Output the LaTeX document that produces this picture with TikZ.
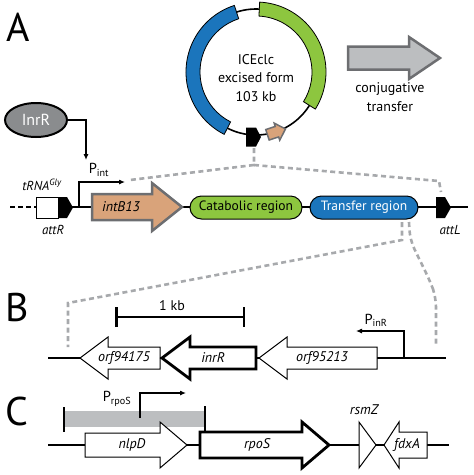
\documentclass[tikz,border=0pt]{standalone}
\usepackage{fontspec}
\setmainfont{PT Sans}
\usetikzlibrary{arrows.meta,shapes.geometric,shapes.misc,calc,positioning}

\definecolor{iceBlue}{HTML}{1B75BC}
\definecolor{iceGreen}{HTML}{8DC63F}
\definecolor{intTan}{HTML}{D9A37A}
\definecolor{edgeGray}{HTML}{6D6E71}
\definecolor{lightGray}{HTML}{BCBEC0}
\definecolor{dashGray}{HTML}{A7A9AC}
\definecolor{inrGray}{HTML}{8A8C8E}

\tikzset{
  panel/.style={inner sep=0pt,font=\fontsize{40}{40}\selectfont},
  lab/.style={inner sep=0pt,font=\fontsize{14}{16}\selectfont},
  genelab/.style={inner sep=0pt,font=\fontsize{14}{16}\selectfont\itshape},
  zoomline/.style={dashGray,line width=2.6pt,dash pattern=on 5pt off 3.5pt},
  promo/.style={line width=1.1pt,-{Latex[length=6pt,width=5pt]}},
  geneshape/.style={draw=black,fill=white,line join=miter},
  region/.style={rounded rectangle,draw=black,line width=1pt,minimum height=23pt,
    inner sep=0pt,font=\fontsize{13.5}{15}\selectfont},
}

\begin{document}
\begin{tikzpicture}[x=1pt,y=1pt]
  \useasboundingbox (0,0) rectangle (474,-475);

  \node[panel] (labA) at (18,-27) {A};
  \node[panel] (labB) at (17,-307) {B};
  \node[panel] (labC) at (17,-411) {C};

  % A: excised form
  \coordinate (ice) at (256,-72);
  \draw[line width=1.6pt] (ice) circle (63);
  \filldraw[fill=iceBlue,line width=0.8pt] ($(ice)+(108:70)$) arc (108:243:70)
    -- ($(ice)+(243:56)$) arc (243:108:56) -- cycle;
  \filldraw[fill=iceGreen,line width=0.8pt] ($(ice)+(87:70)$) arc (87:-32:70)
    -- ($(ice)+(-32:56)$) arc (-32:87:56) -- cycle;
  \fill[shift={(253,-137)}] (-7,-9.5) -- (3,-9.5) -- (8,0) -- (3,9.5) -- (-7,9.5) -- cycle;
  \filldraw[fill=intTan,draw=edgeGray,line width=1.5pt,line join=miter,
    shift={(276,-132)},rotate=18] (-9,-5.5) -- (1,-5.5) -- (1,-9) -- (10,0)
    -- (1,9) -- (1,5.5) -- (-9,5.5) -- cycle;
  \node[lab,align=center,font=\fontsize{14}{18.5}\selectfont] (icetxt) at (256,-78)
    {ICEclc\\excised form\\103 kb};

  \filldraw[fill=lightGray,draw=edgeGray,line width=2.5pt,line join=miter]
    (348,-46.5) -- (409,-46.5) -- (409,-37) -- (440,-58) -- (409,-79)
    -- (409,-69.5) -- (348,-69.5) -- cycle;
  \node[lab,align=center,font=\fontsize{14}{19}\selectfont] (conj) at (390,-97)
    {conjugative\\transfer};

  \node[ellipse,draw,line width=2pt,fill=inrGray,minimum width=62pt,minimum height=34pt,
    inner sep=0pt,text=white,font=\fontsize{16}{16}\selectfont] (inrr) at (36,-120) {InrR};
  \coordinate (pintIn) at (86,-160);
  \draw[promo] (inrr.east) -| (pintIn);

  % A: integrated form
  \coordinate (startA) at (10,-207);
  \coordinate (boxL) at (35,-207);
  \coordinate (endA) at (468,-207);
  \draw[line width=2pt,dash pattern=on 5pt off 3pt] (startA) -- (boxL);
  \draw[line width=1.2pt] (boxL) -- (endA);
  \filldraw[fill=white,line width=1pt] (36,-197) rectangle (58,-218);
  \fill (58,-197) -- (67,-197) -- (73,-207.5) -- (67,-218) -- (58,-218) -- cycle;
  \node[genelab,font=\fontsize{13}{15}\selectfont\itshape] (trna) at (42,-185) {tRNA\textsuperscript{Gly}};
  \node[genelab,font=\fontsize{13}{15}\selectfont\itshape] (attr) at (53,-230) {attR};

  \coordinate (pintOut) at (125,-182);
  \draw[promo] (79,-207) |- (pintOut);
  \node[lab,font=\fontsize{14.5}{16}\selectfont] (pint) at (99,-170) {P\textsubscript{int}};

  \filldraw[fill=intTan,draw=edgeGray,line width=2.5pt,line join=miter]
    (92,-194) -- (152,-194) -- (152,-183) -- (182,-207) -- (152,-231)
    -- (152,-220) -- (92,-220) -- cycle;
  \node[genelab] (intb) at (121,-207) {intB13};

  \node[region,fill=iceGreen,minimum width=112pt] (catab) at (246,-207.5) {Catabolic region};
  \node[region,fill=iceBlue,text=white,minimum width=108pt] (transf) at (364,-207.5) {Transfer region};

  \fill (436,-197) -- (445,-197) -- (451,-207.5) -- (445,-218) -- (436,-218) -- cycle;
  \node[genelab,font=\fontsize{13}{15}\selectfont\itshape] (attl) at (450,-230) {attL};

  \coordinate (attP) at (254,-148);
  \coordinate (split) at (254,-165);
  \draw[zoomline] (attP) -- (split) -- (130,-180);
  \draw[zoomline] (split) -- (439,-181) -- (441,-192);

  \draw[zoomline] (402,-222) -- (402,-240) -- (68,-303) -- (68,-347);
  \draw[zoomline,rounded corners=10pt] (409,-222) -- (410,-240) -- (430,-281)
    -- (436,-297) -- (436,-347);

  % B: inrR region
  \draw[line width=1.2pt] (48,-358) -- (446,-358);
  \foreach \xa/\xb/\xc/\lw/\nm/\lab in {80/108/160/1pt/orfL/orf94175,
      162/190/256/2.8pt/inrRgene/inrR,259/287/377/1pt/orfR/orf95213} {
    \filldraw[geneshape,line width=\lw] (\xa,-358) -- (\xb,-337) -- (\xb,-347)
      -- (\xc,-347) -- (\xc,-369) -- (\xb,-369) -- (\xb,-379) -- cycle;
    \node[genelab] (\nm) at ({(\xa+\xc)/2+4},-358) {\lab};
  }
  \draw[line width=2.5pt,{Bar[width=20pt]}-{Bar[width=20pt]}] (115,-317) -- (245,-317);
  \node[lab] (kb) at (172,-306) {1 kb};
  \coordinate (pinrOut) at (356,-331);
  \draw[promo] (404,-358) |- (pinrOut);
  \node[lab,font=\fontsize{14.5}{16}\selectfont] (pinr) at (376,-320) {P\textsubscript{inR}};

  % C: rpoS region
  \draw[line width=1.2pt] (48,-445) -- (449,-445);
  \fill[lightGray] (64,-411) rectangle (205,-427);
  \draw[line width=1.4pt] (64,-407) -- (64,-432);
  \draw[line width=1.4pt] (205,-406) -- (205,-432);
  \coordinate (prpoOut) at (186,-393);
  \draw[promo] (140,-418) |- (prpoOut);
  \node[lab,font=\fontsize{14.5}{16}\selectfont] (prpo) at (117,-399) {P\textsubscript{rpoS}};

  \filldraw[geneshape,line width=1pt] (85,-433) -- (160,-433) -- (160,-422) -- (187,-445)
    -- (160,-468) -- (160,-457) -- (85,-457) -- cycle;
  \node[genelab] (nlpd) at (132,-445) {nlpD};
  \filldraw[geneshape,line width=2.8pt] (200,-432) -- (302,-432) -- (302,-422) -- (329,-445)
    -- (302,-468) -- (302,-458) -- (200,-458) -- cycle;
  \node[genelab] (rpos) at (257,-445) {rpoS};
  \filldraw[geneshape,line width=1pt] (359,-422) -- (376,-445) -- (359,-468) -- cycle;
  \node[genelab] (rsmz) at (364,-410) {rsmZ};
  \filldraw[geneshape,line width=1pt] (384,-445) -- (399,-422) -- (399,-432) -- (427,-432)
    -- (427,-458) -- (399,-458) -- (399,-468) -- cycle;
  \node[genelab] (fdxa) at (407,-445) {fdxA};
\end{tikzpicture}
\end{document}
